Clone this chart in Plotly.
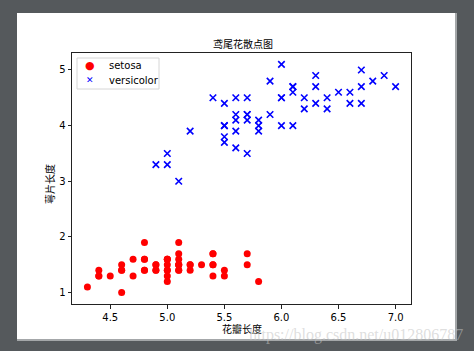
import plotly.graph_objects as go

# Iris data: sepal length (x) vs petal length (y)
setosa_x = [5.1, 4.9, 4.7, 4.6, 5.0, 5.4, 4.6, 5.0, 4.4, 4.9, 5.4, 4.8, 4.8, 4.3, 5.8, 5.7, 5.4, 5.1, 5.7, 5.1,
            5.4, 5.1, 4.6, 5.1, 4.8, 5.0, 5.0, 5.2, 5.2, 4.7, 4.8, 5.4, 5.2, 5.5, 4.9, 5.0, 5.5, 4.9, 4.4, 5.1,
            5.0, 4.5, 4.4, 5.0, 5.1, 4.8, 5.1, 4.6, 5.3, 5.0]
setosa_y = [1.4, 1.4, 1.3, 1.5, 1.4, 1.7, 1.4, 1.5, 1.4, 1.5, 1.5, 1.6, 1.4, 1.1, 1.2, 1.5, 1.3, 1.4, 1.7, 1.5,
            1.7, 1.5, 1.0, 1.7, 1.9, 1.6, 1.6, 1.5, 1.4, 1.6, 1.6, 1.5, 1.5, 1.4, 1.5, 1.2, 1.3, 1.4, 1.3, 1.5,
            1.3, 1.3, 1.3, 1.6, 1.9, 1.4, 1.6, 1.4, 1.5, 1.4]
versicolor_x = [7.0, 6.4, 6.9, 5.5, 6.5, 5.7, 6.3, 4.9, 6.6, 5.2, 5.0, 5.9, 6.0, 6.1, 5.6, 6.7, 5.6, 5.8, 6.2, 5.6,
                5.9, 6.1, 6.3, 6.1, 6.4, 6.6, 6.8, 6.7, 6.0, 5.7, 5.5, 5.5, 5.8, 6.0, 5.4, 6.0, 6.7, 6.3, 5.6, 5.5,
                5.5, 6.1, 5.8, 5.0, 5.6, 5.7, 5.7, 6.2, 5.1, 5.7]
versicolor_y = [4.7, 4.5, 4.9, 4.0, 4.6, 4.5, 4.7, 3.3, 4.6, 3.9, 3.5, 4.2, 4.0, 4.7, 3.6, 4.4, 4.5, 4.1, 4.5, 3.9,
                4.8, 4.0, 4.9, 4.7, 4.3, 4.4, 4.8, 5.0, 4.5, 3.5, 3.8, 3.7, 3.9, 5.1, 4.5, 4.5, 4.7, 4.4, 4.1, 4.0,
                4.4, 4.6, 4.0, 3.3, 4.2, 4.2, 4.2, 4.3, 3.0, 4.1]

series_names = ["setosa", "versicolor"]
x_ticks = [4.5, 5.0, 5.5, 6.0, 6.5, 7.0]
x_ticktext = ["4.5", "5.0", "5.5", "6.0", "6.5", "7.0"]
y_ticks = [1, 2, 3, 4, 5]

W, H = 474, 351
L, R, T, B = 72, 411, 53, 304
pw, ph = R - L, B - T

def px_x(v):
    return (v - L) / pw

def px_y(v):
    return (B - v) / ph

fig = go.Figure()
fig.add_trace(go.Scatter(x=setosa_x, y=setosa_y, mode="markers", name=series_names[0],
                         marker=dict(symbol="circle", size=7, color="red", line=dict(width=0))))
fig.add_trace(go.Scatter(x=versicolor_x, y=versicolor_y, mode="markers", name=series_names[1],
                         marker=dict(symbol="x-thin", size=6.5, color="blue",
                                     line=dict(width=1.6, color="blue"))))

# window frame (gray) and white figure
fig.add_shape(type="rect", xref="paper", yref="paper", layer="below",
              x0=px_x(17), x1=px_x(457), y0=px_y(341), y1=px_y(13),
              fillcolor="#a4a7a9", line=dict(width=0))
fig.add_shape(type="rect", xref="paper", yref="paper", layer="below",
              x0=px_x(17), x1=px_x(455), y0=px_y(339), y1=px_y(13),
              fillcolor="white", line=dict(width=0))

cjk = "Noto Sans CJK SC"
def ann(text, x, y, size, color="black", family=cjk, angle=0):
    fig.add_annotation(text=text, xref="paper", yref="paper", x=px_x(x), y=px_y(y),
                       xanchor="center", yanchor="middle", showarrow=False, textangle=angle,
                       font=dict(family=family, size=size, color=color))

ann("鸢尾花散点图", 243, 43, 10)
ann("花瓣长度", 242, 328, 10)
ann("萼片长度", 49, 184, 10, angle=-90)
ann("https://blog.csdn.net/u012806787", 356, 335, 16, color="rgba(195,195,195,0.55)",
    family="Liberation Serif")

# legend (matplotlib-style box)
fig.add_shape(type="rect", xref="paper", yref="paper",
              x0=px_x(77), x1=px_x(159), y0=px_y(89), y1=px_y(58),
              fillcolor="rgba(255,255,255,0.8)", line=dict(color="#d6d6d6", width=1))
leg_y = [65.5, 80]
ann("●", 90, leg_y[0], 11, color="red", family="DejaVu Sans")
ann("✕", 90, leg_y[1], 9, color="blue", family="DejaVu Sans")
for name, yy in zip(series_names, leg_y):
    fig.add_annotation(text=name, xref="paper", yref="paper", x=px_x(107), y=px_y(yy),
                       xanchor="left", yanchor="middle", showarrow=False,
                       font=dict(family="DejaVu Sans", size=10, color="black"))

axis_common = dict(showline=True, linecolor="#222", linewidth=1, mirror=True,
                   ticks="outside", ticklen=3.5, tickcolor="#222", tickwidth=1,
                   showgrid=False, zeroline=False,
                   tickfont=dict(family="DejaVu Sans", size=10, color="black"))

fig.update_layout(
    width=W, height=H,
    margin=dict(l=L, r=W - R, t=T, b=H - B),
    paper_bgcolor="#55595c",
    plot_bgcolor="white",
    xaxis=dict(range=[4.165, 7.135], tickvals=x_ticks, ticktext=x_ticktext, **axis_common),
    yaxis=dict(range=[0.795, 5.305], tickvals=y_ticks, **axis_common),
    showlegend=False,
)

fig.write_html("out.html")
